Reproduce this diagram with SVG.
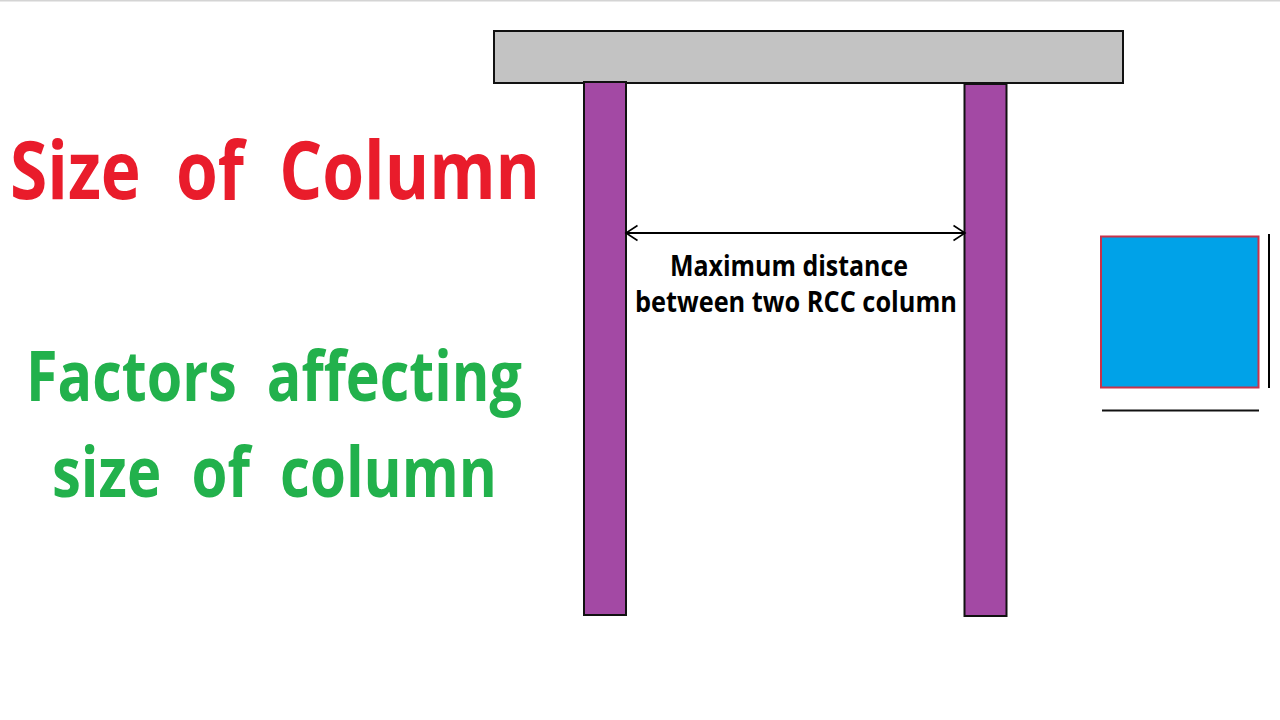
<svg xmlns="http://www.w3.org/2000/svg" width="1280" height="720" viewBox="0 0 1280 720">
<style>
.t{font-family:"Open Sans","Noto Sans",sans-serif;font-weight:700}
.s{stroke:#111;stroke-width:2}
.big{font-size:80px;fill:#e91c2b}
.g{font-size:69px;fill:#22b14c}
.m{font-size:28px;fill:#000}
</style>
<defs><marker id="a" markerWidth="16" markerHeight="18" refX="13" refY="9" orient="auto-start-reverse" markerUnits="userSpaceOnUse"><path d="M1.500 1.500L13 9L1.500 16.500" fill="none" stroke="#000" stroke-width="1.600"/></marker></defs>
<rect width="1280" height="720" fill="#fff"/>
<rect width="1280" height="1.500" fill="#d4d4d4"/>
<g id="beam"><rect class="s" x="494" y="31" width="629" height="52" fill="#c3c3c3"/></g>
<g id="col1"><rect class="s" x="584" y="82" width="42" height="533" fill="#a349a4"/></g>
<g id="col2"><rect class="s" x="964.500" y="84" width="42" height="532" fill="#a349a4"/></g>
<g id="sq"><rect x="1101" y="236.500" width="157.500" height="151" fill="#00a2e8" stroke="#c8334b" stroke-width="2"/></g>
<g id="connectors">
<line x1="626" y1="233" x2="965" y2="233" stroke="#000" stroke-width="1.800" marker-start="url(#a)" marker-end="url(#a)"/>
<line x1="1269" y1="234" x2="1269" y2="388" stroke="#000" stroke-width="2"/>
<line x1="1102" y1="410.500" x2="1259" y2="410.500" stroke="#111" stroke-width="2"/>
</g>
<text class="t big" x="10" y="199" textLength="530" lengthAdjust="spacingAndGlyphs" xml:space="preserve">Size  of  Column</text>
<text class="t g" x="26" y="401" textLength="496" lengthAdjust="spacingAndGlyphs" xml:space="preserve">Factors  affecting</text>
<text class="t g" x="52" y="497" textLength="445" lengthAdjust="spacingAndGlyphs" xml:space="preserve">size  of  column</text>
<text class="t m" x="789" y="275.500" text-anchor="middle" textLength="238" lengthAdjust="spacingAndGlyphs">Maximum distance</text>
<text class="t m" x="796" y="311.500" text-anchor="middle" textLength="322" lengthAdjust="spacingAndGlyphs">between two RCC column</text>
</svg>
